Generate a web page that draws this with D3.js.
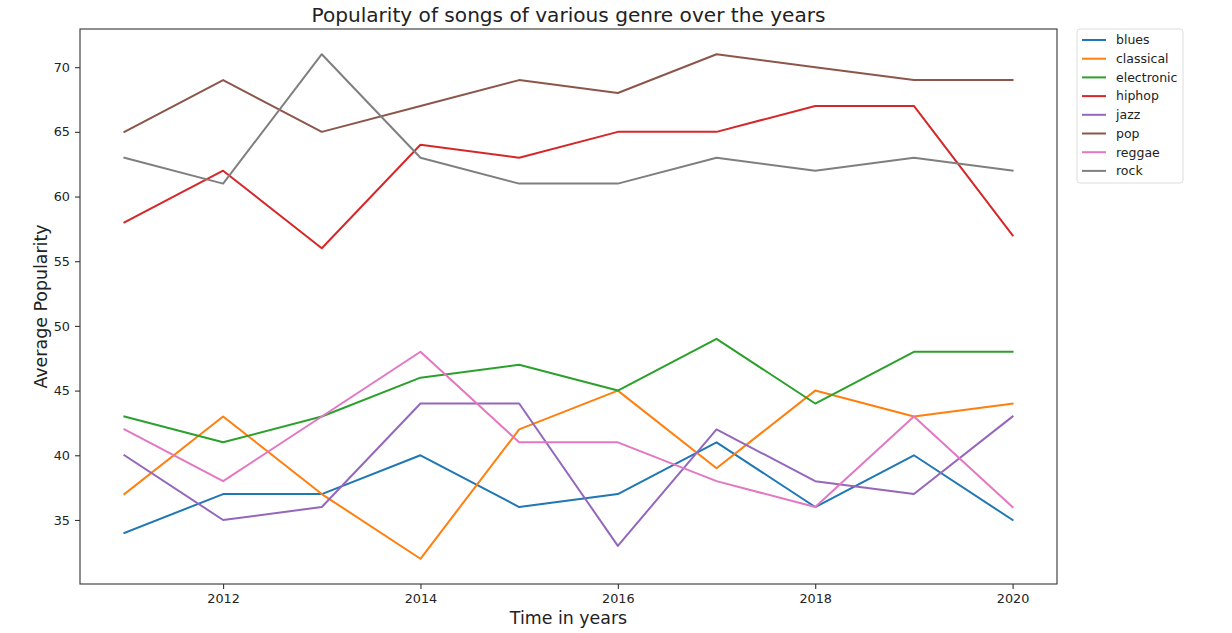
<!DOCTYPE html>
<html>
<head>
<meta charset="utf-8">
<script src="https://cdn.jsdelivr.net/npm/d3@7"></script>
<style>
  body { margin: 0; background: #fff; }
  text { font-family: "DejaVu Sans", sans-serif; fill: #222; }
</style>
</head>
<body>
<div id="chart"></div>
<script>
// data
var years = [2011, 2012, 2013, 2014, 2015, 2016, 2017, 2018, 2019, 2020];
var genres = ["blues", "classical", "electronic", "hiphop", "jazz", "pop", "reggae", "rock"];
var blues      = [34, 37, 37, 40, 36, 37, 41, 36, 40, 35];
var classical  = [37, 43, 37, 32, 42, 45, 39, 45, 43, 44];
var electronic = [43, 41, 43, 46, 47, 45, 49, 44, 48, 48];
var hiphop     = [58, 62, 56, 64, 63, 65, 65, 67, 67, 57];
var jazz       = [40, 35, 36, 44, 44, 33, 42, 38, 37, 43];
var pop        = [65, 69, 65, 67, 69, 68, 71, 70, 69, 69];
var reggae     = [42, 38, 43, 48, 41, 41, 38, 36, 43, 36];
var rock       = [63, 61, 71, 63, 61, 61, 63, 62, 63, 62];
var xTicks = [2012, 2014, 2016, 2018, 2020];
var yTicks = [35, 40, 45, 50, 55, 60, 65, 70];

var seriesValues = [blues, classical, electronic, hiphop, jazz, pop, reggae, rock];
var colors = ["#1f77b4", "#ff7f0e", "#2ca02c", "#d62728", "#9467bd", "#8c564b", "#e377c2", "#7f7f7f"];

var width = 1232, height = 633;
var margin = {top: 29, right: 175, bottom: 49, left: 80};
var chartWidth = width - margin.left - margin.right;
var chartHeight = height - margin.top - margin.bottom;

var svg = d3.select("#chart").append("svg")
    .attr("width", width)
    .attr("height", height);

// matplotlib-like 5% margins
var xMin = d3.min(years), xMax = d3.max(years);
var xPad = (xMax - xMin) * 0.05;
var allValues = d3.merge(seriesValues);
var yMin = d3.min(allValues), yMax = d3.max(allValues);
var yPad = (yMax - yMin) * 0.05;

var xScale = d3.scaleLinear()
    .domain([xMin - xPad, xMax + xPad])
    .range([0, chartWidth]);
var yScale = d3.scaleLinear()
    .domain([yMin - yPad, yMax + yPad])
    .range([chartHeight, 0]);

var viz = svg.append("g")
    .attr("transform", "translate(" + margin.left + "," + margin.top + ")");

var line = d3.line()
    .x(function (d, i) { return xScale(years[i]); })
    .y(function (d) { return yScale(d); });

seriesValues.forEach(function (vals, k) {
  viz.append("path")
      .datum(vals)
      .attr("d", line)
      .attr("fill", "none")
      .attr("stroke", colors[k])
      .attr("stroke-width", 2)
      .attr("stroke-linejoin", "round")
      .attr("stroke-linecap", "square");
});

// frame
viz.append("rect")
    .attr("width", chartWidth)
    .attr("height", chartHeight)
    .attr("fill", "none")
    .attr("stroke", "#333")
    .attr("stroke-width", 1.1);

function styleAxis(g) {
  g.select(".domain").remove();
  g.selectAll(".tick line").attr("stroke", "#333").attr("stroke-width", 1.1);
  g.selectAll(".tick text")
      .attr("font-size", "12.8px")
      .attr("font-family", "DejaVu Sans, sans-serif")
      .attr("fill", "#222");
}

viz.append("g")
    .attr("transform", "translate(0," + chartHeight + ")")
    .call(d3.axisBottom(xScale).tickValues(xTicks).tickFormat(d3.format("d")).tickSize(5).tickPadding(5))
    .call(styleAxis);

viz.append("g")
    .call(d3.axisLeft(yScale).tickValues(yTicks).tickFormat(d3.format("d")).tickSize(5).tickPadding(5))
    .call(styleAxis);

// title and axis labels
svg.append("text")
    .attr("x", margin.left + chartWidth / 2)
    .attr("y", 22)
    .attr("text-anchor", "middle")
    .attr("font-size", "20.1px")
    .text("Popularity of songs of various genre over the years");

svg.append("text")
    .attr("x", margin.left + chartWidth / 2)
    .attr("y", 624)
    .attr("text-anchor", "middle")
    .attr("font-size", "17.4px")
    .text("Time in years");

svg.append("text")
    .attr("transform", "translate(47," + (margin.top + chartHeight / 2) + ") rotate(-90)")
    .attr("text-anchor", "middle")
    .attr("font-size", "17.4px")
    .text("Average Popularity");

// legend
var legend = svg.append("g")
    .attr("transform", "translate(1077,29)");

legend.append("rect")
    .attr("width", 106)
    .attr("height", 154)
    .attr("rx", 3)
    .attr("fill", "#fff")
    .attr("stroke", "#ddd")
    .attr("stroke-width", 1);

genres.forEach(function (name, k) {
  var row = legend.append("g")
      .attr("transform", "translate(0," + (11 + k * 18.7) + ")");
  row.append("line")
      .attr("x1", 5).attr("x2", 29)
      .attr("stroke", colors[k])
      .attr("stroke-width", 2);
  row.append("text")
      .attr("x", 39)
      .attr("dy", "0.35em")
      .attr("font-size", "12.5px")
      .text(name);
});
</script>
</body>
</html>
